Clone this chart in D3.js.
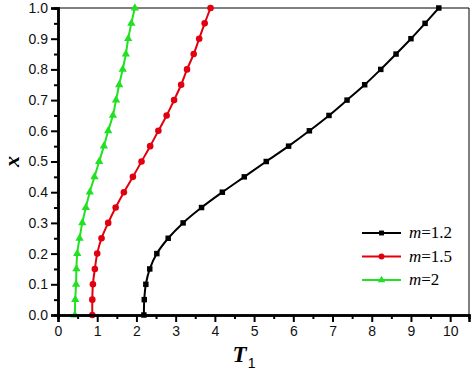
<!DOCTYPE html>
<html>
<head>
<meta charset="utf-8">
<script src="https://cdn.jsdelivr.net/npm/d3@7"></script>
<style>
  body { margin: 0; background: #fff; }
  .tick text { font-family: "Liberation Sans", Arial, sans-serif; font-size: 14px; fill: #111; }
</style>
</head>
<body>
<div class="chart"></div>
<script>
'use strict';

// x fraction (y axis), 0 to 1 by 0.05
var xFrac = [0, 0.05, 0.1, 0.15, 0.2, 0.25, 0.3, 0.35, 0.4, 0.45, 0.5,
  0.55, 0.6, 0.65, 0.7, 0.75, 0.8, 0.85, 0.9, 0.95, 1.0];

// T1 for each m
var t1m12 = [2.19, 2.20, 2.24, 2.34, 2.52, 2.81, 3.19, 3.66, 4.19, 4.75, 5.31,
  5.88, 6.41, 6.91, 7.37, 7.82, 8.23, 8.62, 9.0, 9.36, 9.71];
var t1m15 = [0.875, 0.875, 0.89, 0.94, 1.0, 1.11, 1.28, 1.47, 1.68, 1.91, 2.13,
  2.35, 2.56, 2.77, 2.96, 3.14, 3.29, 3.46, 3.60, 3.74, 3.89];
var t1m2 = [0.43, 0.44, 0.46, 0.47, 0.49, 0.55, 0.62, 0.71, 0.81, 0.93, 1.05,
  1.17, 1.28, 1.40, 1.48, 1.56, 1.65, 1.73, 1.79, 1.87, 1.96];

var seriesNames = ['1.2', '1.5', '2'];
var xTicks = [0, 1, 2, 3, 4, 5, 6, 7, 8, 9, 10];
var yTicks = [0, 0.1, 0.2, 0.3, 0.4, 0.5, 0.6, 0.7, 0.8, 0.9, 1.0];

var margin = { top: 8, right: 5, bottom: 59, left: 58 };
var width = 474 - margin.left - margin.right;
var height = 374 - margin.top - margin.bottom;

var series = [
  { name: seriesNames[0], t: t1m12, color: '#000', shape: d3.symbolSquare, size: 30 },
  { name: seriesNames[1], t: t1m15, color: '#e2000e', shape: d3.symbolCircle, size: 34 },
  { name: seriesNames[2], t: t1m2, color: '#22e022', shape: d3.symbolTriangle, size: 30 }
];

var x = d3.scaleLinear().domain([0, 10.48]).range([0, width]);
var y = d3.scaleLinear().domain([0, 1]).range([height, 0]);

var svg = d3.select('.chart').append('svg')
  .attr('width', 474).attr('height', 374)
  .append('g')
  .attr('transform', 'translate(' + margin.left + ',' + margin.top + ')');

// frame: thin top and right
svg.append('line').attr('x1', 0).attr('x2', width).attr('y1', 0).attr('y2', 0)
  .attr('stroke', '#000').attr('stroke-width', 1);
svg.append('line').attr('x1', width).attr('x2', width).attr('y1', 0).attr('y2', height)
  .attr('stroke', '#000').attr('stroke-width', 1);

var line = d3.line()
  .x(function (d) { return x(d[0]); })
  .y(function (d) { return y(d[1]); })
  .curve(d3.curveCatmullRom);

series.forEach(function (s) {
  var pts = s.t.map(function (t, i) { return [t, xFrac[i]]; });
  svg.append('path').datum(pts)
    .attr('fill', 'none').attr('stroke', s.color).attr('stroke-width', 2)
    .attr('d', line);
  svg.selectAll(null).data(pts).enter().append('path')
    .attr('transform', function (d) { return 'translate(' + x(d[0]) + ',' + y(d[1]) + ')'; })
    .attr('d', d3.symbol().type(s.shape).size(s.size))
    .attr('fill', s.color);
});

// axes
var xAxis = d3.axisBottom(x).tickValues(xTicks).tickFormat(d3.format('d')).tickSize(7).tickPadding(4);
var xMinor = d3.axisBottom(x).tickValues(d3.range(0.5, 10.5, 1)).tickFormat('').tickSize(4);
var yAxis = d3.axisLeft(y).tickValues(yTicks).tickFormat(d3.format('.1f')).tickSize(7).tickPadding(3);
var yMinor = d3.axisLeft(y).tickValues(d3.range(0.05, 1, 0.1)).tickFormat('').tickSize(4);

function styleAxis(g) {
  g.select('.domain').attr('stroke-width', 2.5);
  g.selectAll('.tick line').attr('stroke-width', 2);
}

svg.append('g').attr('transform', 'translate(0,' + height + ')').call(xMinor).call(styleAxis);
svg.append('g').attr('transform', 'translate(0,' + height + ')').call(xAxis).call(styleAxis);
svg.append('g').call(yMinor).call(styleAxis);
svg.append('g').call(yAxis).call(styleAxis);

// axis titles
svg.append('text')
  .attr('transform', 'translate(' + (-39) + ',' + (height / 2) + ') rotate(-90)')
  .attr('text-anchor', 'middle')
  .style('font-family', '"Liberation Serif", "Times New Roman", serif')
  .style('font-style', 'italic').style('font-weight', 'bold').style('font-size', '22px')
  .text('x');

var tTitle = svg.append('text')
  .attr('x', 186).attr('y', height + 47)
  .attr('text-anchor', 'middle');
tTitle.append('tspan')
  .style('font-family', '"Liberation Serif", "Times New Roman", serif')
  .style('font-style', 'italic').style('font-weight', 'bold').style('font-size', '23px')
  .text('T');
tTitle.append('tspan').attr('dy', 6).attr('dx', 1)
  .style('font-family', '"Liberation Sans", Arial, sans-serif').style('font-size', '14px')
  .text('1');

// legend
var legend = svg.append('g').attr('transform', 'translate(' + (362 - margin.left) + ',' + (233 - margin.top) + ')');
series.forEach(function (s, i) {
  var g = legend.append('g').attr('transform', 'translate(0,' + (i * 23.5) + ')');
  g.append('line').attr('x1', 0).attr('x2', 39).attr('y1', 0).attr('y2', 0)
    .attr('stroke', s.color).attr('stroke-width', 2);
  g.append('path').attr('transform', 'translate(19.5,0)')
    .attr('d', d3.symbol().type(s.shape).size(s.size - 6)).attr('fill', s.color);
  var t = g.append('text').attr('x', 47).attr('y', 5)
    .style('font-family', '"Liberation Serif", "Times New Roman", serif').style('font-size', '17px');
  t.append('tspan').style('font-style', 'italic').text('m');
  t.append('tspan').text('=' + s.name);
});
</script>
</body>
</html>
